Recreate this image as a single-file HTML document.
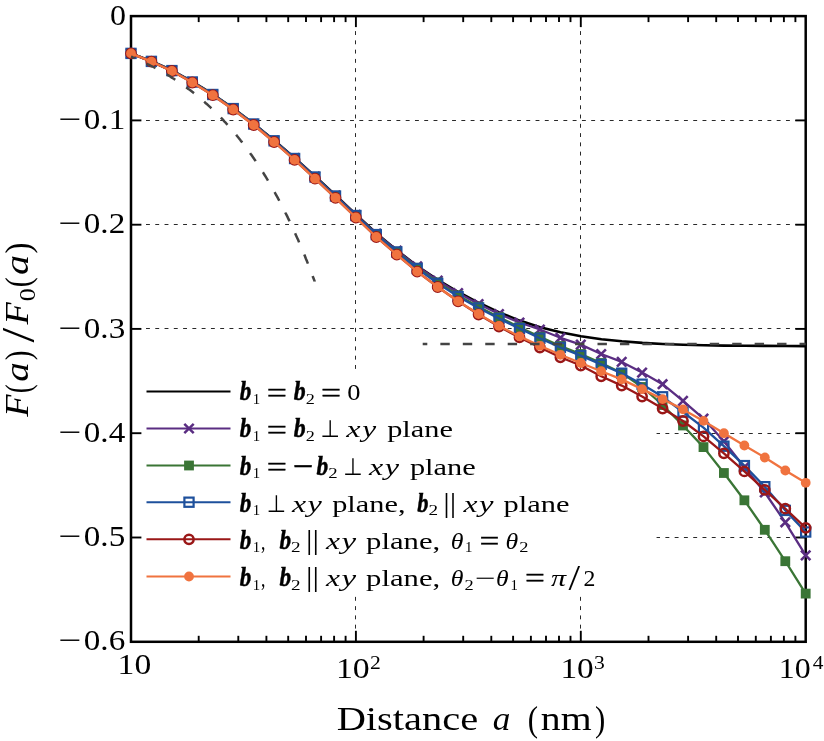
<!DOCTYPE html>
<html lang="en"><head><meta charset="utf-8"><title>Figure</title>
<style>html,body{margin:0;padding:0;background:#fff;}svg{display:block;}</style></head>
<body>
<svg width="824" height="741" viewBox="0 0 824 741">
<rect x="0" y="0" width="824" height="741" fill="#ffffff"/>
<g stroke="#111" stroke-width="0.9" stroke-dasharray="3.9 5.375" stroke-dashoffset="3.55" fill="none"><line x1="131.0" y1="120.5" x2="805.7" y2="120.5"/><line x1="131.0" y1="224.5" x2="805.7" y2="224.5"/><line x1="131.0" y1="328.5" x2="805.7" y2="328.5"/><line x1="131.0" y1="433.5" x2="805.7" y2="433.5"/><line x1="131.0" y1="537.5" x2="805.7" y2="537.5"/><line x1="355.5" y1="16.1" x2="355.5" y2="641.8"/><line x1="580.5" y1="16.1" x2="580.5" y2="641.8"/></g>
<rect x="143" y="373" width="513.5" height="222" fill="#ffffff"/>
<g stroke="#000" stroke-width="1.9" fill="none"><line x1="131.0" y1="120.4" x2="141.4" y2="120.4"/><line x1="805.7" y1="120.4" x2="795.3000000000001" y2="120.4"/><line x1="131.0" y1="224.7" x2="141.4" y2="224.7"/><line x1="805.7" y1="224.7" x2="795.3000000000001" y2="224.7"/><line x1="131.0" y1="328.9" x2="141.4" y2="328.9"/><line x1="805.7" y1="328.9" x2="795.3000000000001" y2="328.9"/><line x1="131.0" y1="433.2" x2="141.4" y2="433.2"/><line x1="805.7" y1="433.2" x2="795.3000000000001" y2="433.2"/><line x1="131.0" y1="537.5" x2="141.4" y2="537.5"/><line x1="805.7" y1="537.5" x2="795.3000000000001" y2="537.5"/><line x1="198.7" y1="16.1" x2="198.7" y2="22.1"/><line x1="198.7" y1="641.8" x2="198.7" y2="635.8"/><line x1="238.3" y1="16.1" x2="238.3" y2="22.1"/><line x1="238.3" y1="641.8" x2="238.3" y2="635.8"/><line x1="266.4" y1="16.1" x2="266.4" y2="22.1"/><line x1="266.4" y1="641.8" x2="266.4" y2="635.8"/><line x1="288.2" y1="16.1" x2="288.2" y2="22.1"/><line x1="288.2" y1="641.8" x2="288.2" y2="635.8"/><line x1="306.0" y1="16.1" x2="306.0" y2="22.1"/><line x1="306.0" y1="641.8" x2="306.0" y2="635.8"/><line x1="321.1" y1="16.1" x2="321.1" y2="22.1"/><line x1="321.1" y1="641.8" x2="321.1" y2="635.8"/><line x1="334.1" y1="16.1" x2="334.1" y2="22.1"/><line x1="334.1" y1="641.8" x2="334.1" y2="635.8"/><line x1="345.6" y1="16.1" x2="345.6" y2="22.1"/><line x1="345.6" y1="641.8" x2="345.6" y2="635.8"/><line x1="355.9" y1="16.1" x2="355.9" y2="27.1"/><line x1="355.9" y1="641.8" x2="355.9" y2="630.8"/><line x1="423.6" y1="16.1" x2="423.6" y2="22.1"/><line x1="423.6" y1="641.8" x2="423.6" y2="635.8"/><line x1="463.2" y1="16.1" x2="463.2" y2="22.1"/><line x1="463.2" y1="641.8" x2="463.2" y2="635.8"/><line x1="491.3" y1="16.1" x2="491.3" y2="22.1"/><line x1="491.3" y1="641.8" x2="491.3" y2="635.8"/><line x1="513.1" y1="16.1" x2="513.1" y2="22.1"/><line x1="513.1" y1="641.8" x2="513.1" y2="635.8"/><line x1="530.9" y1="16.1" x2="530.9" y2="22.1"/><line x1="530.9" y1="641.8" x2="530.9" y2="635.8"/><line x1="546.0" y1="16.1" x2="546.0" y2="22.1"/><line x1="546.0" y1="641.8" x2="546.0" y2="635.8"/><line x1="559.0" y1="16.1" x2="559.0" y2="22.1"/><line x1="559.0" y1="641.8" x2="559.0" y2="635.8"/><line x1="570.5" y1="16.1" x2="570.5" y2="22.1"/><line x1="570.5" y1="641.8" x2="570.5" y2="635.8"/><line x1="580.8" y1="16.1" x2="580.8" y2="27.1"/><line x1="580.8" y1="641.8" x2="580.8" y2="630.8"/><line x1="648.5" y1="16.1" x2="648.5" y2="22.1"/><line x1="648.5" y1="641.8" x2="648.5" y2="635.8"/><line x1="688.1" y1="16.1" x2="688.1" y2="22.1"/><line x1="688.1" y1="641.8" x2="688.1" y2="635.8"/><line x1="716.2" y1="16.1" x2="716.2" y2="22.1"/><line x1="716.2" y1="641.8" x2="716.2" y2="635.8"/><line x1="738.0" y1="16.1" x2="738.0" y2="22.1"/><line x1="738.0" y1="641.8" x2="738.0" y2="635.8"/><line x1="755.8" y1="16.1" x2="755.8" y2="22.1"/><line x1="755.8" y1="641.8" x2="755.8" y2="635.8"/><line x1="770.9" y1="16.1" x2="770.9" y2="22.1"/><line x1="770.9" y1="641.8" x2="770.9" y2="635.8"/><line x1="783.9" y1="16.1" x2="783.9" y2="22.1"/><line x1="783.9" y1="641.8" x2="783.9" y2="635.8"/><line x1="795.4" y1="16.1" x2="795.4" y2="22.1"/><line x1="795.4" y1="641.8" x2="795.4" y2="635.8"/></g>
<rect x="131.0" y="16.1" width="674.7" height="625.6999999999999" fill="none" stroke="#000" stroke-width="2.5"/>
<path d="M131.0,53.4 L151.4,61.1 L171.9,70.3 L192.3,81.7 L212.8,94.2 L233.2,108.3 L253.7,123.7 L274.1,140.3 L294.6,157.9 L315.0,176.3 L335.5,195.2 L355.9,214.5 L376.3,233.3 L396.8,250.2 L417.2,266.0 L437.8,279.8 L458.3,292.0 L478.7,302.8 L499.2,312.4 L519.6,320.6 L540.1,327.2 L560.5,332.3 L581.0,336.2 L601.5,339.2 L621.9,341.3 L642.4,342.9 L662.8,344.0 L683.3,344.8 L703.7,345.3 L724.2,345.6 L744.6,345.8 L765.1,345.9 L785.5,346.0 L806.0,346.1" stroke="#000000" stroke-width="2.6" fill="none" stroke-linejoin="round"/>
<path d="M131.0,53.4 L151.4,61.4 L171.9,70.6 L192.3,82.0 L212.8,94.5 L233.2,108.6 L253.7,124.0 L274.1,140.6 L294.6,158.2 L315.0,176.6 L335.5,195.5 L355.9,214.8 L376.3,233.6 L396.8,250.5 L417.2,266.3 L437.7,280.5 L458.1,293.0 L478.6,304.0 L499.0,314.0 L519.5,322.5 L539.9,329.5 L560.4,337.8 L580.8,344.6 L601.2,354.0 L621.7,361.9 L642.1,372.6 L662.6,384.2 L683.0,400.9 L703.5,418.6 L723.9,441.3 L744.4,467.2 L764.8,492.5 L785.3,522.3 L805.7,555.4" stroke="#5a2d82" stroke-width="2.3" fill="none" stroke-linejoin="round"/><path d="M126.3,48.7L135.7,58.1M126.3,58.1L135.7,48.7" stroke="#5a2d82" stroke-width="2.6" fill="none"/><path d="M146.7,56.7L156.1,66.1M146.7,66.1L156.1,56.7" stroke="#5a2d82" stroke-width="2.6" fill="none"/><path d="M167.2,65.9L176.6,75.3M167.2,75.3L176.6,65.9" stroke="#5a2d82" stroke-width="2.6" fill="none"/><path d="M187.6,77.3L197.0,86.7M187.6,86.7L197.0,77.3" stroke="#5a2d82" stroke-width="2.6" fill="none"/><path d="M208.1,89.8L217.5,99.2M208.1,99.2L217.5,89.8" stroke="#5a2d82" stroke-width="2.6" fill="none"/><path d="M228.5,103.9L237.9,113.3M228.5,113.3L237.9,103.9" stroke="#5a2d82" stroke-width="2.6" fill="none"/><path d="M249.0,119.3L258.4,128.7M249.0,128.7L258.4,119.3" stroke="#5a2d82" stroke-width="2.6" fill="none"/><path d="M269.4,135.9L278.8,145.3M269.4,145.3L278.8,135.9" stroke="#5a2d82" stroke-width="2.6" fill="none"/><path d="M289.9,153.5L299.3,162.9M289.9,162.9L299.3,153.5" stroke="#5a2d82" stroke-width="2.6" fill="none"/><path d="M310.3,171.9L319.7,181.3M310.3,181.3L319.7,171.9" stroke="#5a2d82" stroke-width="2.6" fill="none"/><path d="M330.8,190.8L340.2,200.2M330.8,200.2L340.2,190.8" stroke="#5a2d82" stroke-width="2.6" fill="none"/><path d="M351.2,210.1L360.6,219.5M351.2,219.5L360.6,210.1" stroke="#5a2d82" stroke-width="2.6" fill="none"/><path d="M371.6,228.9L381.0,238.3M371.6,238.3L381.0,228.9" stroke="#5a2d82" stroke-width="2.6" fill="none"/><path d="M392.1,245.8L401.5,255.2M392.1,255.2L401.5,245.8" stroke="#5a2d82" stroke-width="2.6" fill="none"/><path d="M412.5,261.6L421.9,271.0M412.5,271.0L421.9,261.6" stroke="#5a2d82" stroke-width="2.6" fill="none"/><path d="M433.0,275.8L442.4,285.2M433.0,285.2L442.4,275.8" stroke="#5a2d82" stroke-width="2.6" fill="none"/><path d="M453.4,288.3L462.8,297.7M453.4,297.7L462.8,288.3" stroke="#5a2d82" stroke-width="2.6" fill="none"/><path d="M473.9,299.3L483.3,308.7M473.9,308.7L483.3,299.3" stroke="#5a2d82" stroke-width="2.6" fill="none"/><path d="M494.3,309.3L503.7,318.7M494.3,318.7L503.7,309.3" stroke="#5a2d82" stroke-width="2.6" fill="none"/><path d="M514.8,317.8L524.2,327.2M514.8,327.2L524.2,317.8" stroke="#5a2d82" stroke-width="2.6" fill="none"/><path d="M535.2,324.8L544.6,334.2M535.2,334.2L544.6,324.8" stroke="#5a2d82" stroke-width="2.6" fill="none"/><path d="M555.7,333.1L565.1,342.5M555.7,342.5L565.1,333.1" stroke="#5a2d82" stroke-width="2.6" fill="none"/><path d="M576.1,339.9L585.5,349.3M576.1,349.3L585.5,339.9" stroke="#5a2d82" stroke-width="2.6" fill="none"/><path d="M596.5,349.3L605.9,358.7M596.5,358.7L605.9,349.3" stroke="#5a2d82" stroke-width="2.6" fill="none"/><path d="M617.0,357.2L626.4,366.6M617.0,366.6L626.4,357.2" stroke="#5a2d82" stroke-width="2.6" fill="none"/><path d="M637.4,367.9L646.8,377.3M637.4,377.3L646.8,367.9" stroke="#5a2d82" stroke-width="2.6" fill="none"/><path d="M657.9,379.5L667.3,388.9M657.9,388.9L667.3,379.5" stroke="#5a2d82" stroke-width="2.6" fill="none"/><path d="M678.3,396.2L687.7,405.6M678.3,405.6L687.7,396.2" stroke="#5a2d82" stroke-width="2.6" fill="none"/><path d="M698.8,413.9L708.2,423.3M698.8,423.3L708.2,413.9" stroke="#5a2d82" stroke-width="2.6" fill="none"/><path d="M719.2,436.6L728.6,446.0M719.2,446.0L728.6,436.6" stroke="#5a2d82" stroke-width="2.6" fill="none"/><path d="M739.7,462.5L749.1,471.9M739.7,471.9L749.1,462.5" stroke="#5a2d82" stroke-width="2.6" fill="none"/><path d="M760.1,487.8L769.5,497.2M760.1,497.2L769.5,487.8" stroke="#5a2d82" stroke-width="2.6" fill="none"/><path d="M780.6,517.6L790.0,527.0M780.6,527.0L790.0,517.6" stroke="#5a2d82" stroke-width="2.6" fill="none"/><path d="M801.0,550.7L810.4,560.1M801.0,560.1L810.4,550.7" stroke="#5a2d82" stroke-width="2.6" fill="none"/>
<path d="M131.0,53.4 L151.4,61.4 L171.9,70.6 L192.3,82.0 L212.8,94.5 L233.2,108.6 L253.7,124.0 L274.1,140.8 L294.6,158.5 L315.0,177.0 L335.5,196.0 L355.9,215.5 L376.3,234.4 L396.8,251.6 L417.2,267.8 L437.7,282.4 L458.1,295.4 L478.6,306.8 L499.0,317.2 L519.5,327.2 L539.9,336.8 L560.4,346.0 L580.8,354.0 L601.2,363.0 L621.7,373.0 L642.1,387.0 L662.6,405.0 L683.0,425.5 L703.5,447.1 L723.9,473.0 L744.4,500.3 L764.8,529.8 L785.3,561.2 L805.7,593.6" stroke="#3a7535" stroke-width="2.3" fill="none" stroke-linejoin="round"/><rect x="126.1" y="48.5" width="9.8" height="9.8" fill="#3a7535"/><rect x="146.5" y="56.5" width="9.8" height="9.8" fill="#3a7535"/><rect x="167.0" y="65.7" width="9.8" height="9.8" fill="#3a7535"/><rect x="187.4" y="77.1" width="9.8" height="9.8" fill="#3a7535"/><rect x="207.9" y="89.6" width="9.8" height="9.8" fill="#3a7535"/><rect x="228.3" y="103.7" width="9.8" height="9.8" fill="#3a7535"/><rect x="248.8" y="119.1" width="9.8" height="9.8" fill="#3a7535"/><rect x="269.2" y="135.9" width="9.8" height="9.8" fill="#3a7535"/><rect x="289.7" y="153.6" width="9.8" height="9.8" fill="#3a7535"/><rect x="310.1" y="172.1" width="9.8" height="9.8" fill="#3a7535"/><rect x="330.6" y="191.1" width="9.8" height="9.8" fill="#3a7535"/><rect x="351.0" y="210.6" width="9.8" height="9.8" fill="#3a7535"/><rect x="371.4" y="229.5" width="9.8" height="9.8" fill="#3a7535"/><rect x="391.9" y="246.7" width="9.8" height="9.8" fill="#3a7535"/><rect x="412.3" y="262.9" width="9.8" height="9.8" fill="#3a7535"/><rect x="432.8" y="277.5" width="9.8" height="9.8" fill="#3a7535"/><rect x="453.2" y="290.5" width="9.8" height="9.8" fill="#3a7535"/><rect x="473.7" y="301.9" width="9.8" height="9.8" fill="#3a7535"/><rect x="494.1" y="312.3" width="9.8" height="9.8" fill="#3a7535"/><rect x="514.6" y="322.3" width="9.8" height="9.8" fill="#3a7535"/><rect x="535.0" y="331.9" width="9.8" height="9.8" fill="#3a7535"/><rect x="555.5" y="341.1" width="9.8" height="9.8" fill="#3a7535"/><rect x="575.9" y="349.1" width="9.8" height="9.8" fill="#3a7535"/><rect x="596.3" y="358.1" width="9.8" height="9.8" fill="#3a7535"/><rect x="616.8" y="368.1" width="9.8" height="9.8" fill="#3a7535"/><rect x="637.2" y="382.1" width="9.8" height="9.8" fill="#3a7535"/><rect x="657.7" y="400.1" width="9.8" height="9.8" fill="#3a7535"/><rect x="678.1" y="420.6" width="9.8" height="9.8" fill="#3a7535"/><rect x="698.6" y="442.2" width="9.8" height="9.8" fill="#3a7535"/><rect x="719.0" y="468.1" width="9.8" height="9.8" fill="#3a7535"/><rect x="739.5" y="495.4" width="9.8" height="9.8" fill="#3a7535"/><rect x="759.9" y="524.9" width="9.8" height="9.8" fill="#3a7535"/><rect x="780.4" y="556.3" width="9.8" height="9.8" fill="#3a7535"/><rect x="800.8" y="588.7" width="9.8" height="9.8" fill="#3a7535"/>
<path d="M131.0,53.4 L151.4,61.4 L171.9,70.6 L192.3,82.0 L212.8,94.5 L233.2,108.6 L253.7,124.0 L274.1,140.8 L294.6,158.5 L315.0,177.0 L335.5,196.0 L355.9,215.5 L376.3,234.6 L396.8,252.0 L417.2,268.5 L437.7,283.4 L458.1,296.6 L478.6,308.0 L499.0,318.5 L519.5,328.5 L539.9,338.2 L560.4,347.5 L580.8,355.6 L601.2,364.4 L621.7,373.2 L642.1,384.2 L662.6,396.8 L683.0,412.0 L703.5,427.7 L723.9,446.2 L744.4,465.6 L764.8,486.7 L785.3,510.4 L805.7,532.0" stroke="#1e509c" stroke-width="2.3" fill="none" stroke-linejoin="round"/><rect x="126.4" y="48.8" width="9.2" height="9.2" fill="none" stroke="#1e509c" stroke-width="2.2"/><rect x="146.8" y="56.8" width="9.2" height="9.2" fill="none" stroke="#1e509c" stroke-width="2.2"/><rect x="167.3" y="66.0" width="9.2" height="9.2" fill="none" stroke="#1e509c" stroke-width="2.2"/><rect x="187.7" y="77.4" width="9.2" height="9.2" fill="none" stroke="#1e509c" stroke-width="2.2"/><rect x="208.2" y="89.9" width="9.2" height="9.2" fill="none" stroke="#1e509c" stroke-width="2.2"/><rect x="228.6" y="104.0" width="9.2" height="9.2" fill="none" stroke="#1e509c" stroke-width="2.2"/><rect x="249.1" y="119.4" width="9.2" height="9.2" fill="none" stroke="#1e509c" stroke-width="2.2"/><rect x="269.5" y="136.2" width="9.2" height="9.2" fill="none" stroke="#1e509c" stroke-width="2.2"/><rect x="290.0" y="153.9" width="9.2" height="9.2" fill="none" stroke="#1e509c" stroke-width="2.2"/><rect x="310.4" y="172.4" width="9.2" height="9.2" fill="none" stroke="#1e509c" stroke-width="2.2"/><rect x="330.9" y="191.4" width="9.2" height="9.2" fill="none" stroke="#1e509c" stroke-width="2.2"/><rect x="351.3" y="210.9" width="9.2" height="9.2" fill="none" stroke="#1e509c" stroke-width="2.2"/><rect x="371.7" y="230.0" width="9.2" height="9.2" fill="none" stroke="#1e509c" stroke-width="2.2"/><rect x="392.2" y="247.4" width="9.2" height="9.2" fill="none" stroke="#1e509c" stroke-width="2.2"/><rect x="412.6" y="263.9" width="9.2" height="9.2" fill="none" stroke="#1e509c" stroke-width="2.2"/><rect x="433.1" y="278.8" width="9.2" height="9.2" fill="none" stroke="#1e509c" stroke-width="2.2"/><rect x="453.5" y="292.0" width="9.2" height="9.2" fill="none" stroke="#1e509c" stroke-width="2.2"/><rect x="474.0" y="303.4" width="9.2" height="9.2" fill="none" stroke="#1e509c" stroke-width="2.2"/><rect x="494.4" y="313.9" width="9.2" height="9.2" fill="none" stroke="#1e509c" stroke-width="2.2"/><rect x="514.9" y="323.9" width="9.2" height="9.2" fill="none" stroke="#1e509c" stroke-width="2.2"/><rect x="535.3" y="333.6" width="9.2" height="9.2" fill="none" stroke="#1e509c" stroke-width="2.2"/><rect x="555.8" y="342.9" width="9.2" height="9.2" fill="none" stroke="#1e509c" stroke-width="2.2"/><rect x="576.2" y="351.0" width="9.2" height="9.2" fill="none" stroke="#1e509c" stroke-width="2.2"/><rect x="596.6" y="359.8" width="9.2" height="9.2" fill="none" stroke="#1e509c" stroke-width="2.2"/><rect x="617.1" y="368.6" width="9.2" height="9.2" fill="none" stroke="#1e509c" stroke-width="2.2"/><rect x="637.5" y="379.6" width="9.2" height="9.2" fill="none" stroke="#1e509c" stroke-width="2.2"/><rect x="658.0" y="392.2" width="9.2" height="9.2" fill="none" stroke="#1e509c" stroke-width="2.2"/><rect x="678.4" y="407.4" width="9.2" height="9.2" fill="none" stroke="#1e509c" stroke-width="2.2"/><rect x="698.9" y="423.1" width="9.2" height="9.2" fill="none" stroke="#1e509c" stroke-width="2.2"/><rect x="719.3" y="441.6" width="9.2" height="9.2" fill="none" stroke="#1e509c" stroke-width="2.2"/><rect x="739.8" y="461.0" width="9.2" height="9.2" fill="none" stroke="#1e509c" stroke-width="2.2"/><rect x="760.2" y="482.1" width="9.2" height="9.2" fill="none" stroke="#1e509c" stroke-width="2.2"/><rect x="780.7" y="505.8" width="9.2" height="9.2" fill="none" stroke="#1e509c" stroke-width="2.2"/><rect x="801.1" y="527.4" width="9.2" height="9.2" fill="none" stroke="#1e509c" stroke-width="2.2"/>
<path d="M131.0,53.4 L151.4,61.6 L171.9,71.0 L192.3,82.5 L212.8,95.2 L233.2,109.5 L253.7,125.0 L274.1,142.0 L294.6,159.9 L315.0,178.7 L335.5,197.8 L355.9,217.5 L376.3,237.0 L396.8,254.6 L417.2,271.6 L437.7,287.0 L458.1,301.3 L478.6,314.5 L499.0,326.6 L519.5,337.4 L539.9,347.5 L560.4,357.3 L580.8,365.5 L601.2,376.3 L621.7,385.6 L642.1,396.6 L662.6,408.5 L683.0,421.0 L703.5,436.4 L723.9,453.3 L744.4,471.4 L764.8,489.9 L785.3,508.7 L805.7,527.8" stroke="#9a1717" stroke-width="2.3" fill="none" stroke-linejoin="round"/><circle cx="131.0" cy="53.4" r="4.65" fill="none" stroke="#9a1717" stroke-width="2.5"/><circle cx="151.4" cy="61.6" r="4.65" fill="none" stroke="#9a1717" stroke-width="2.5"/><circle cx="171.9" cy="71.0" r="4.65" fill="none" stroke="#9a1717" stroke-width="2.5"/><circle cx="192.3" cy="82.5" r="4.65" fill="none" stroke="#9a1717" stroke-width="2.5"/><circle cx="212.8" cy="95.2" r="4.65" fill="none" stroke="#9a1717" stroke-width="2.5"/><circle cx="233.2" cy="109.5" r="4.65" fill="none" stroke="#9a1717" stroke-width="2.5"/><circle cx="253.7" cy="125.0" r="4.65" fill="none" stroke="#9a1717" stroke-width="2.5"/><circle cx="274.1" cy="142.0" r="4.65" fill="none" stroke="#9a1717" stroke-width="2.5"/><circle cx="294.6" cy="159.9" r="4.65" fill="none" stroke="#9a1717" stroke-width="2.5"/><circle cx="315.0" cy="178.7" r="4.65" fill="none" stroke="#9a1717" stroke-width="2.5"/><circle cx="335.5" cy="197.8" r="4.65" fill="none" stroke="#9a1717" stroke-width="2.5"/><circle cx="355.9" cy="217.5" r="4.65" fill="none" stroke="#9a1717" stroke-width="2.5"/><circle cx="376.3" cy="237.0" r="4.65" fill="none" stroke="#9a1717" stroke-width="2.5"/><circle cx="396.8" cy="254.6" r="4.65" fill="none" stroke="#9a1717" stroke-width="2.5"/><circle cx="417.2" cy="271.6" r="4.65" fill="none" stroke="#9a1717" stroke-width="2.5"/><circle cx="437.7" cy="287.0" r="4.65" fill="none" stroke="#9a1717" stroke-width="2.5"/><circle cx="458.1" cy="301.3" r="4.65" fill="none" stroke="#9a1717" stroke-width="2.5"/><circle cx="478.6" cy="314.5" r="4.65" fill="none" stroke="#9a1717" stroke-width="2.5"/><circle cx="499.0" cy="326.6" r="4.65" fill="none" stroke="#9a1717" stroke-width="2.5"/><circle cx="519.5" cy="337.4" r="4.65" fill="none" stroke="#9a1717" stroke-width="2.5"/><circle cx="539.9" cy="347.5" r="4.65" fill="none" stroke="#9a1717" stroke-width="2.5"/><circle cx="560.4" cy="357.3" r="4.65" fill="none" stroke="#9a1717" stroke-width="2.5"/><circle cx="580.8" cy="365.5" r="4.65" fill="none" stroke="#9a1717" stroke-width="2.5"/><circle cx="601.2" cy="376.3" r="4.65" fill="none" stroke="#9a1717" stroke-width="2.5"/><circle cx="621.7" cy="385.6" r="4.65" fill="none" stroke="#9a1717" stroke-width="2.5"/><circle cx="642.1" cy="396.6" r="4.65" fill="none" stroke="#9a1717" stroke-width="2.5"/><circle cx="662.6" cy="408.5" r="4.65" fill="none" stroke="#9a1717" stroke-width="2.5"/><circle cx="683.0" cy="421.0" r="4.65" fill="none" stroke="#9a1717" stroke-width="2.5"/><circle cx="703.5" cy="436.4" r="4.65" fill="none" stroke="#9a1717" stroke-width="2.5"/><circle cx="723.9" cy="453.3" r="4.65" fill="none" stroke="#9a1717" stroke-width="2.5"/><circle cx="744.4" cy="471.4" r="4.65" fill="none" stroke="#9a1717" stroke-width="2.5"/><circle cx="764.8" cy="489.9" r="4.65" fill="none" stroke="#9a1717" stroke-width="2.5"/><circle cx="785.3" cy="508.7" r="4.65" fill="none" stroke="#9a1717" stroke-width="2.5"/><circle cx="805.7" cy="527.8" r="4.65" fill="none" stroke="#9a1717" stroke-width="2.5"/>
<path d="M131.0,53.4 L151.4,61.6 L171.9,71.0 L192.3,82.5 L212.8,95.2 L233.2,109.5 L253.7,125.0 L274.1,142.0 L294.6,159.9 L315.0,178.7 L335.5,197.8 L355.9,217.5 L376.3,237.0 L396.8,254.6 L417.2,271.6 L437.7,287.0 L458.1,301.3 L478.6,314.0 L499.0,325.9 L519.5,336.4 L539.9,345.8 L560.4,354.8 L580.8,363.0 L601.2,371.2 L621.7,379.4 L642.1,389.1 L662.6,399.1 L683.0,409.4 L703.5,420.9 L723.9,433.2 L744.4,445.5 L764.8,457.5 L785.3,470.5 L805.7,482.8" stroke="#f0733f" stroke-width="2.3" fill="none" stroke-linejoin="round"/><circle cx="131.0" cy="53.4" r="4.9" fill="#f0733f"/><circle cx="151.4" cy="61.6" r="4.9" fill="#f0733f"/><circle cx="171.9" cy="71.0" r="4.9" fill="#f0733f"/><circle cx="192.3" cy="82.5" r="4.9" fill="#f0733f"/><circle cx="212.8" cy="95.2" r="4.9" fill="#f0733f"/><circle cx="233.2" cy="109.5" r="4.9" fill="#f0733f"/><circle cx="253.7" cy="125.0" r="4.9" fill="#f0733f"/><circle cx="274.1" cy="142.0" r="4.9" fill="#f0733f"/><circle cx="294.6" cy="159.9" r="4.9" fill="#f0733f"/><circle cx="315.0" cy="178.7" r="4.9" fill="#f0733f"/><circle cx="335.5" cy="197.8" r="4.9" fill="#f0733f"/><circle cx="355.9" cy="217.5" r="4.9" fill="#f0733f"/><circle cx="376.3" cy="237.0" r="4.9" fill="#f0733f"/><circle cx="396.8" cy="254.6" r="4.9" fill="#f0733f"/><circle cx="417.2" cy="271.6" r="4.9" fill="#f0733f"/><circle cx="437.7" cy="287.0" r="4.9" fill="#f0733f"/><circle cx="458.1" cy="301.3" r="4.9" fill="#f0733f"/><circle cx="478.6" cy="314.0" r="4.9" fill="#f0733f"/><circle cx="499.0" cy="325.9" r="4.9" fill="#f0733f"/><circle cx="519.5" cy="336.4" r="4.9" fill="#f0733f"/><circle cx="539.9" cy="345.8" r="4.9" fill="#f0733f"/><circle cx="560.4" cy="354.8" r="4.9" fill="#f0733f"/><circle cx="580.8" cy="363.0" r="4.9" fill="#f0733f"/><circle cx="601.2" cy="371.2" r="4.9" fill="#f0733f"/><circle cx="621.7" cy="379.4" r="4.9" fill="#f0733f"/><circle cx="642.1" cy="389.1" r="4.9" fill="#f0733f"/><circle cx="662.6" cy="399.1" r="4.9" fill="#f0733f"/><circle cx="683.0" cy="409.4" r="4.9" fill="#f0733f"/><circle cx="703.5" cy="420.9" r="4.9" fill="#f0733f"/><circle cx="723.9" cy="433.2" r="4.9" fill="#f0733f"/><circle cx="744.4" cy="445.5" r="4.9" fill="#f0733f"/><circle cx="764.8" cy="457.5" r="4.9" fill="#f0733f"/><circle cx="785.3" cy="470.5" r="4.9" fill="#f0733f"/><circle cx="805.7" cy="482.8" r="4.9" fill="#f0733f"/>
<path d="M131.0,56.6 L132.0,57.0 L132.9,57.4 L133.9,57.8 L134.9,58.2 L135.9,58.6 L136.8,59.1 L137.8,59.5 L138.8,59.9 L139.7,60.4 L140.7,60.8 L141.7,61.2 L142.7,61.7 L143.6,62.1 L144.6,62.6 L145.6,63.1 L146.6,63.5 L147.5,64.0 L148.5,64.5 L149.5,65.0 L150.4,65.5 L151.4,66.0 L152.4,66.5 L153.4,67.0 L154.3,67.5 L155.3,68.0 L156.3,68.5 L157.2,69.0 L158.2,69.6 L159.2,70.1 L160.2,70.6 L161.1,71.2 L162.1,71.7 L163.1,72.3 L164.0,72.9 L165.0,73.4 L166.0,74.0 L167.0,74.6 L167.9,75.2 L168.9,75.7 L169.9,76.3 L170.8,76.9 L171.8,77.6 L172.8,78.2 L173.8,78.8 L174.7,79.4 L175.7,80.0 L176.7,80.7 L177.7,81.3 L178.6,82.0 L179.6,82.6 L180.6,83.3 L181.5,84.0 L182.5,84.7 L183.5,85.3 L184.5,86.0 L185.4,86.7 L186.4,87.4 L187.4,88.2 L188.3,88.9 L189.3,89.6 L190.3,90.3 L191.3,91.1 L192.2,91.8 L193.2,92.6 L194.2,93.4 L195.1,94.1 L196.1,94.9 L197.1,95.7 L198.1,96.5 L199.0,97.3 L200.0,98.1 L201.0,98.9 L201.9,99.8 L202.9,100.6 L203.9,101.4 L204.9,102.3 L205.8,103.2 L206.8,104.0 L207.8,104.9 L208.8,105.8 L209.7,106.7 L210.7,107.6 L211.7,108.5 L212.6,109.4 L213.6,110.4 L214.6,111.3 L215.6,112.3 L216.5,113.2 L217.5,114.2 L218.5,115.2 L219.4,116.2 L220.4,117.2 L221.4,118.2 L222.4,119.2 L223.3,120.2 L224.3,121.3 L225.3,122.3 L226.2,123.4 L227.2,124.5 L228.2,125.5 L229.2,126.6 L230.1,127.7 L231.1,128.9 L232.1,130.0 L233.0,131.1 L234.0,132.3 L235.0,133.4 L236.0,134.6 L236.9,135.8 L237.9,137.0 L238.9,138.2 L239.9,139.4 L240.8,140.7 L241.8,141.9 L242.8,143.2 L243.7,144.4 L244.7,145.7 L245.7,147.0 L246.7,148.3 L247.6,149.6 L248.6,151.0 L249.6,152.3 L250.5,153.7 L251.5,155.1 L252.5,156.5 L253.5,157.9 L254.4,159.3 L255.4,160.7 L256.4,162.2 L257.3,163.6 L258.3,165.1 L259.3,166.6 L260.3,168.1 L261.2,169.6 L262.2,171.1 L263.2,172.7 L264.1,174.3 L265.1,175.8 L266.1,177.4 L267.1,179.0 L268.0,180.7 L269.0,182.3 L270.0,184.0 L271.0,185.7 L271.9,187.4 L272.9,189.1 L273.9,190.8 L274.8,192.5 L275.8,194.3 L276.8,196.1 L277.8,197.9 L278.7,199.7 L279.7,201.5 L280.7,203.4 L281.6,205.3 L282.6,207.2 L283.6,209.1 L284.6,211.0 L285.5,213.0 L286.5,214.9 L287.5,216.9 L288.4,218.9 L289.4,220.9 L290.4,223.0 L291.4,225.1 L292.3,227.2 L293.3,229.3 L294.3,231.4 L295.2,233.5 L296.2,235.7 L297.2,237.9 L298.2,240.1 L299.1,242.4 L300.1,244.6 L301.1,246.9 L302.1,249.2 L303.0,251.6 L304.0,253.9 L305.0,256.3 L305.9,258.7 L306.9,261.1 L307.9,263.6 L308.9,266.1 L309.8,268.6 L310.8,271.1 L311.8,273.6 L312.7,276.2 L313.7,278.8 L314.7,281.4 L314.7,281.5" stroke="#444444" stroke-width="2.5" stroke-dasharray="9.8 13.25" stroke-dashoffset="5.8" fill="none"/>
<line x1="422.7" y1="344.1" x2="805.7" y2="344.1" stroke="#444444" stroke-width="2.5" stroke-dasharray="9.4 13.05" stroke-dashoffset="4.8"/>
<line x1="146.5" y1="391.5" x2="230.5" y2="391.5" stroke="#000000" stroke-width="2.1"/>
<line x1="146.5" y1="428.5" x2="230.5" y2="428.5" stroke="#5a2d82" stroke-width="2.1"/>
<path d="M184.3,423.8L193.7,433.2M184.3,433.2L193.7,423.8" stroke="#5a2d82" stroke-width="2.5" fill="none"/>
<line x1="146.5" y1="465.5" x2="230.5" y2="465.5" stroke="#3a7535" stroke-width="2.1"/>
<rect x="184.1" y="460.6" width="9.8" height="9.8" fill="#3a7535"/>
<line x1="146.5" y1="502.2" x2="230.5" y2="502.2" stroke="#1e509c" stroke-width="2.1"/>
<rect x="184.4" y="497.6" width="9.2" height="9.2" fill="none" stroke="#1e509c" stroke-width="2.2"/>
<line x1="146.5" y1="539.3" x2="230.5" y2="539.3" stroke="#9a1717" stroke-width="2.1"/>
<circle cx="189.0" cy="539.3" r="4.65" fill="none" stroke="#9a1717" stroke-width="2.5"/>
<line x1="146.5" y1="576.5" x2="230.5" y2="576.5" stroke="#f0733f" stroke-width="2.1"/>
<circle cx="189.0" cy="576.5" r="4.9" fill="#f0733f"/>
<g fill="#000"><text stroke="#000" stroke-width="0.45" x="239.7" y="400.4" font-size="27" font-family="'Liberation Serif', 'DejaVu Serif', serif" font-weight="bold" font-style="italic" textLength="11.5" lengthAdjust="spacingAndGlyphs">b</text>
<text x="252.8" y="404.2" font-size="15.5" font-family="'Liberation Serif', 'DejaVu Serif', serif" textLength="7.4" lengthAdjust="spacingAndGlyphs">1</text>
<text stroke="#000" stroke-width="0.35" x="266.7" y="401.5" font-size="27" font-family="'Liberation Serif', 'DejaVu Serif', serif" textLength="20.2" lengthAdjust="spacingAndGlyphs">=</text>
<text stroke="#000" stroke-width="0.45" x="293.7" y="400.4" font-size="27" font-family="'Liberation Serif', 'DejaVu Serif', serif" font-weight="bold" font-style="italic" textLength="11.9" lengthAdjust="spacingAndGlyphs">b</text>
<text x="305.7" y="404.2" font-size="15.5" font-family="'Liberation Serif', 'DejaVu Serif', serif" textLength="9.1" lengthAdjust="spacingAndGlyphs">2</text>
<text stroke="#000" stroke-width="0.35" x="320.9" y="401.5" font-size="27" font-family="'Liberation Serif', 'DejaVu Serif', serif" textLength="20.1" lengthAdjust="spacingAndGlyphs">=</text>
<text x="347.2" y="400.4" font-size="24" font-family="'Liberation Serif', 'DejaVu Serif', serif" textLength="13.2" lengthAdjust="spacingAndGlyphs">0</text>
<text stroke="#000" stroke-width="0.45" x="239.7" y="437.4" font-size="27" font-family="'Liberation Serif', 'DejaVu Serif', serif" font-weight="bold" font-style="italic" textLength="11.5" lengthAdjust="spacingAndGlyphs">b</text>
<text x="252.8" y="441.2" font-size="15.5" font-family="'Liberation Serif', 'DejaVu Serif', serif" textLength="7.4" lengthAdjust="spacingAndGlyphs">1</text>
<text stroke="#000" stroke-width="0.35" x="266.7" y="438.5" font-size="27" font-family="'Liberation Serif', 'DejaVu Serif', serif" textLength="20.2" lengthAdjust="spacingAndGlyphs">=</text>
<text stroke="#000" stroke-width="0.45" x="293.7" y="437.4" font-size="27" font-family="'Liberation Serif', 'DejaVu Serif', serif" font-weight="bold" font-style="italic" textLength="11.9" lengthAdjust="spacingAndGlyphs">b</text>
<text x="305.7" y="441.2" font-size="15.5" font-family="'Liberation Serif', 'DejaVu Serif', serif" textLength="9.1" lengthAdjust="spacingAndGlyphs">2</text>
<text x="320.6" y="437.4" font-size="24" font-family="'DejaVu Sans', sans-serif" textLength="19.4" lengthAdjust="spacingAndGlyphs">⊥</text>
<text x="346.2" y="437.4" font-size="24" font-family="'Liberation Serif', 'DejaVu Serif', serif" font-style="italic" textLength="14.3" lengthAdjust="spacingAndGlyphs">x</text>
<text x="362.3" y="437.4" font-size="24" font-family="'Liberation Serif', 'DejaVu Serif', serif" font-style="italic" textLength="13.9" lengthAdjust="spacingAndGlyphs">y</text>
<text x="387.2" y="437.4" font-size="24" font-family="'Liberation Serif', 'DejaVu Serif', serif" textLength="65.8" lengthAdjust="spacingAndGlyphs">plane</text>
<text stroke="#000" stroke-width="0.45" x="239.7" y="474.5" font-size="27" font-family="'Liberation Serif', 'DejaVu Serif', serif" font-weight="bold" font-style="italic" textLength="11.5" lengthAdjust="spacingAndGlyphs">b</text>
<text x="252.8" y="478.3" font-size="15.5" font-family="'Liberation Serif', 'DejaVu Serif', serif" textLength="7.4" lengthAdjust="spacingAndGlyphs">1</text>
<text stroke="#000" stroke-width="0.35" x="266.7" y="475.6" font-size="27" font-family="'Liberation Serif', 'DejaVu Serif', serif" textLength="20.2" lengthAdjust="spacingAndGlyphs">=</text>
<text stroke="#000" stroke-width="0.3" x="293.0" y="475.1" font-size="26" font-family="'Liberation Serif', 'DejaVu Serif', serif" font-weight="bold" textLength="20.8" lengthAdjust="spacingAndGlyphs">−</text>
<text stroke="#000" stroke-width="0.45" x="316.5" y="474.5" font-size="27" font-family="'Liberation Serif', 'DejaVu Serif', serif" font-weight="bold" font-style="italic" textLength="11.7" lengthAdjust="spacingAndGlyphs">b</text>
<text x="328.2" y="478.3" font-size="15.5" font-family="'Liberation Serif', 'DejaVu Serif', serif" textLength="9.4" lengthAdjust="spacingAndGlyphs">2</text>
<text x="343.2" y="474.5" font-size="24" font-family="'DejaVu Sans', sans-serif" textLength="19.4" lengthAdjust="spacingAndGlyphs">⊥</text>
<text x="369.0" y="474.5" font-size="24" font-family="'Liberation Serif', 'DejaVu Serif', serif" font-style="italic" textLength="14.2" lengthAdjust="spacingAndGlyphs">x</text>
<text x="384.7" y="474.5" font-size="24" font-family="'Liberation Serif', 'DejaVu Serif', serif" font-style="italic" textLength="14.3" lengthAdjust="spacingAndGlyphs">y</text>
<text x="409.9" y="474.5" font-size="24" font-family="'Liberation Serif', 'DejaVu Serif', serif" textLength="65.8" lengthAdjust="spacingAndGlyphs">plane</text>
<text stroke="#000" stroke-width="0.45" x="239.7" y="511.6" font-size="27" font-family="'Liberation Serif', 'DejaVu Serif', serif" font-weight="bold" font-style="italic" textLength="11.5" lengthAdjust="spacingAndGlyphs">b</text>
<text x="252.8" y="515.4" font-size="15.5" font-family="'Liberation Serif', 'DejaVu Serif', serif" textLength="7.4" lengthAdjust="spacingAndGlyphs">1</text>
<text x="266.8" y="511.6" font-size="24" font-family="'DejaVu Sans', sans-serif" textLength="19.3" lengthAdjust="spacingAndGlyphs">⊥</text>
<text x="292.1" y="511.6" font-size="24" font-family="'Liberation Serif', 'DejaVu Serif', serif" font-style="italic" textLength="14.1" lengthAdjust="spacingAndGlyphs">x</text>
<text x="307.6" y="511.6" font-size="24" font-family="'Liberation Serif', 'DejaVu Serif', serif" font-style="italic" textLength="14.3" lengthAdjust="spacingAndGlyphs">y</text>
<text x="332.2" y="511.6" font-size="24" font-family="'Liberation Serif', 'DejaVu Serif', serif" textLength="73.3" lengthAdjust="spacingAndGlyphs">plane,</text>
<text stroke="#000" stroke-width="0.45" x="417.2" y="511.6" font-size="27" font-family="'Liberation Serif', 'DejaVu Serif', serif" font-weight="bold" font-style="italic" textLength="11.2" lengthAdjust="spacingAndGlyphs">b</text>
<text x="428.4" y="515.4" font-size="15.5" font-family="'Liberation Serif', 'DejaVu Serif', serif" textLength="9.6" lengthAdjust="spacingAndGlyphs">2</text>
<text x="443.3" y="511.6" font-size="27" font-family="'Liberation Serif', 'DejaVu Serif', serif" textLength="13.0" lengthAdjust="spacingAndGlyphs">||</text>
<text x="463.5" y="511.6" font-size="24" font-family="'Liberation Serif', 'DejaVu Serif', serif" font-style="italic" textLength="14.0" lengthAdjust="spacingAndGlyphs">x</text>
<text x="479.0" y="511.6" font-size="24" font-family="'Liberation Serif', 'DejaVu Serif', serif" font-style="italic" textLength="14.5" lengthAdjust="spacingAndGlyphs">y</text>
<text x="503.5" y="511.6" font-size="24" font-family="'Liberation Serif', 'DejaVu Serif', serif" textLength="65.9" lengthAdjust="spacingAndGlyphs">plane</text>
<text stroke="#000" stroke-width="0.45" x="239.7" y="548.6" font-size="27" font-family="'Liberation Serif', 'DejaVu Serif', serif" font-weight="bold" font-style="italic" textLength="11.5" lengthAdjust="spacingAndGlyphs">b</text>
<text x="252.8" y="552.4" font-size="15.5" font-family="'Liberation Serif', 'DejaVu Serif', serif" textLength="7.4" lengthAdjust="spacingAndGlyphs">1</text>
<text x="260.9" y="548.6" font-size="24" font-family="'Liberation Serif', 'DejaVu Serif', serif" textLength="4.4" lengthAdjust="spacingAndGlyphs">,</text>
<text stroke="#000" stroke-width="0.45" x="279.4" y="548.6" font-size="27" font-family="'Liberation Serif', 'DejaVu Serif', serif" font-weight="bold" font-style="italic" textLength="11.6" lengthAdjust="spacingAndGlyphs">b</text>
<text x="291.0" y="552.4" font-size="15.5" font-family="'Liberation Serif', 'DejaVu Serif', serif" textLength="9.6" lengthAdjust="spacingAndGlyphs">2</text>
<text x="305.9" y="548.6" font-size="27" font-family="'Liberation Serif', 'DejaVu Serif', serif" textLength="13.0" lengthAdjust="spacingAndGlyphs">||</text>
<text x="326.1" y="548.6" font-size="24" font-family="'Liberation Serif', 'DejaVu Serif', serif" font-style="italic" textLength="14.0" lengthAdjust="spacingAndGlyphs">x</text>
<text x="341.5" y="548.6" font-size="24" font-family="'Liberation Serif', 'DejaVu Serif', serif" font-style="italic" textLength="14.6" lengthAdjust="spacingAndGlyphs">y</text>
<text x="366.1" y="548.6" font-size="24" font-family="'Liberation Serif', 'DejaVu Serif', serif" textLength="74.1" lengthAdjust="spacingAndGlyphs">plane,</text>
<text x="450.7" y="548.6" font-size="24" font-family="'Liberation Serif', 'DejaVu Serif', serif" font-style="italic" textLength="12.7" lengthAdjust="spacingAndGlyphs">θ</text>
<text x="465.0" y="552.4" font-size="15.5" font-family="'Liberation Serif', 'DejaVu Serif', serif" textLength="7.4" lengthAdjust="spacingAndGlyphs">1</text>
<text stroke="#000" stroke-width="0.35" x="479.5" y="549.7" font-size="27" font-family="'Liberation Serif', 'DejaVu Serif', serif" textLength="19.9" lengthAdjust="spacingAndGlyphs">=</text>
<text x="505.4" y="548.6" font-size="24" font-family="'Liberation Serif', 'DejaVu Serif', serif" font-style="italic" textLength="12.7" lengthAdjust="spacingAndGlyphs">θ</text>
<text x="519.2" y="552.4" font-size="15.5" font-family="'Liberation Serif', 'DejaVu Serif', serif" textLength="9.2" lengthAdjust="spacingAndGlyphs">2</text>
<text stroke="#000" stroke-width="0.45" x="239.7" y="585.8" font-size="27" font-family="'Liberation Serif', 'DejaVu Serif', serif" font-weight="bold" font-style="italic" textLength="11.5" lengthAdjust="spacingAndGlyphs">b</text>
<text x="252.8" y="589.6" font-size="15.5" font-family="'Liberation Serif', 'DejaVu Serif', serif" textLength="7.4" lengthAdjust="spacingAndGlyphs">1</text>
<text x="260.9" y="585.8" font-size="24" font-family="'Liberation Serif', 'DejaVu Serif', serif" textLength="4.4" lengthAdjust="spacingAndGlyphs">,</text>
<text stroke="#000" stroke-width="0.45" x="279.4" y="585.8" font-size="27" font-family="'Liberation Serif', 'DejaVu Serif', serif" font-weight="bold" font-style="italic" textLength="11.6" lengthAdjust="spacingAndGlyphs">b</text>
<text x="291.0" y="589.6" font-size="15.5" font-family="'Liberation Serif', 'DejaVu Serif', serif" textLength="9.6" lengthAdjust="spacingAndGlyphs">2</text>
<text x="305.9" y="585.8" font-size="27" font-family="'Liberation Serif', 'DejaVu Serif', serif" textLength="13.0" lengthAdjust="spacingAndGlyphs">||</text>
<text x="326.1" y="585.8" font-size="24" font-family="'Liberation Serif', 'DejaVu Serif', serif" font-style="italic" textLength="14.0" lengthAdjust="spacingAndGlyphs">x</text>
<text x="341.5" y="585.8" font-size="24" font-family="'Liberation Serif', 'DejaVu Serif', serif" font-style="italic" textLength="14.6" lengthAdjust="spacingAndGlyphs">y</text>
<text x="366.1" y="585.8" font-size="24" font-family="'Liberation Serif', 'DejaVu Serif', serif" textLength="74.1" lengthAdjust="spacingAndGlyphs">plane,</text>
<text x="450.7" y="585.8" font-size="24" font-family="'Liberation Serif', 'DejaVu Serif', serif" font-style="italic" textLength="12.7" lengthAdjust="spacingAndGlyphs">θ</text>
<text x="464.6" y="589.6" font-size="15.5" font-family="'Liberation Serif', 'DejaVu Serif', serif" textLength="9.2" lengthAdjust="spacingAndGlyphs">2</text>
<text x="474.9" y="585.8" font-size="24" font-family="'Liberation Serif', 'DejaVu Serif', serif" textLength="20.7" lengthAdjust="spacingAndGlyphs">−</text>
<text x="496.1" y="585.8" font-size="24" font-family="'Liberation Serif', 'DejaVu Serif', serif" font-style="italic" textLength="12.6" lengthAdjust="spacingAndGlyphs">θ</text>
<text x="510.4" y="589.6" font-size="15.5" font-family="'Liberation Serif', 'DejaVu Serif', serif" textLength="7.4" lengthAdjust="spacingAndGlyphs">1</text>
<text stroke="#000" stroke-width="0.35" x="524.9" y="586.9" font-size="27" font-family="'Liberation Serif', 'DejaVu Serif', serif" textLength="19.9" lengthAdjust="spacingAndGlyphs">=</text>
<text x="551.1" y="585.8" font-size="24" font-family="'Liberation Serif', 'DejaVu Serif', serif" font-style="italic" textLength="15.1" lengthAdjust="spacingAndGlyphs">π</text>
<text x="568.4" y="590.0" font-size="35" font-family="'Liberation Serif', 'DejaVu Serif', serif" textLength="11.6" lengthAdjust="spacingAndGlyphs">/</text>
<text x="583.6" y="585.8" font-size="24" font-family="'Liberation Serif', 'DejaVu Serif', serif" textLength="11.9" lengthAdjust="spacingAndGlyphs">2</text>
<text x="58.5" y="129.0" font-size="29.5" font-family="'Liberation Serif', 'DejaVu Serif', serif" textLength="23.0" lengthAdjust="spacingAndGlyphs">−</text>
<text x="83.8" y="129.0" font-size="29.5" font-family="'Liberation Serif', 'DejaVu Serif', serif" textLength="41.4" lengthAdjust="spacingAndGlyphs">0.1</text>
<text x="58.5" y="233.3" font-size="29.5" font-family="'Liberation Serif', 'DejaVu Serif', serif" textLength="23.0" lengthAdjust="spacingAndGlyphs">−</text>
<text x="83.8" y="233.3" font-size="29.5" font-family="'Liberation Serif', 'DejaVu Serif', serif" textLength="41.4" lengthAdjust="spacingAndGlyphs">0.2</text>
<text x="58.5" y="337.6" font-size="29.5" font-family="'Liberation Serif', 'DejaVu Serif', serif" textLength="23.0" lengthAdjust="spacingAndGlyphs">−</text>
<text x="83.8" y="337.6" font-size="29.5" font-family="'Liberation Serif', 'DejaVu Serif', serif" textLength="41.4" lengthAdjust="spacingAndGlyphs">0.3</text>
<text x="58.5" y="441.8" font-size="29.5" font-family="'Liberation Serif', 'DejaVu Serif', serif" textLength="23.0" lengthAdjust="spacingAndGlyphs">−</text>
<text x="83.8" y="441.8" font-size="29.5" font-family="'Liberation Serif', 'DejaVu Serif', serif" textLength="41.4" lengthAdjust="spacingAndGlyphs">0.4</text>
<text x="58.5" y="546.1" font-size="29.5" font-family="'Liberation Serif', 'DejaVu Serif', serif" textLength="23.0" lengthAdjust="spacingAndGlyphs">−</text>
<text x="83.8" y="546.1" font-size="29.5" font-family="'Liberation Serif', 'DejaVu Serif', serif" textLength="41.4" lengthAdjust="spacingAndGlyphs">0.5</text>
<text x="58.5" y="650.4" font-size="29.5" font-family="'Liberation Serif', 'DejaVu Serif', serif" textLength="23.0" lengthAdjust="spacingAndGlyphs">−</text>
<text x="83.8" y="650.4" font-size="29.5" font-family="'Liberation Serif', 'DejaVu Serif', serif" textLength="41.4" lengthAdjust="spacingAndGlyphs">0.6</text>
<text x="110.0" y="24.6" font-size="29.5" font-family="'Liberation Serif', 'DejaVu Serif', serif" textLength="16.0" lengthAdjust="spacingAndGlyphs">0</text>
<text x="117.6" y="673.9" font-size="29.5" font-family="'Liberation Serif', 'DejaVu Serif', serif" textLength="33.6" lengthAdjust="spacingAndGlyphs">10</text>
<text x="335.9" y="678.1" font-size="29.5" font-family="'Liberation Serif', 'DejaVu Serif', serif" textLength="33.8" lengthAdjust="spacingAndGlyphs">10</text>
<text x="369.9" y="669.0" font-size="19" font-family="'Liberation Serif', 'DejaVu Serif', serif" textLength="10.8" lengthAdjust="spacingAndGlyphs">2</text>
<text x="560.4" y="678.1" font-size="29.5" font-family="'Liberation Serif', 'DejaVu Serif', serif" textLength="33.3" lengthAdjust="spacingAndGlyphs">10</text>
<text x="594.0" y="669.0" font-size="19" font-family="'Liberation Serif', 'DejaVu Serif', serif" textLength="10.8" lengthAdjust="spacingAndGlyphs">3</text>
<text x="778.7" y="678.1" font-size="29.5" font-family="'Liberation Serif', 'DejaVu Serif', serif" textLength="31.9" lengthAdjust="spacingAndGlyphs">10</text>
<text x="812.8" y="669.0" font-size="19" font-family="'Liberation Serif', 'DejaVu Serif', serif" textLength="10.7" lengthAdjust="spacingAndGlyphs">4</text>
<text x="336.7" y="730.0" font-size="33" font-family="'Liberation Serif', 'DejaVu Serif', serif" textLength="141.4" lengthAdjust="spacingAndGlyphs">Distance</text>
<text x="492.7" y="730.0" font-size="33" font-family="'Liberation Serif', 'DejaVu Serif', serif" font-style="italic" textLength="17.6" lengthAdjust="spacingAndGlyphs">a</text>
<text x="527.7" y="731.3" font-size="36" font-family="'Liberation Serif', 'DejaVu Serif', serif" textLength="10.3" lengthAdjust="spacingAndGlyphs">(</text>
<text x="540.8" y="730.0" font-size="33" font-family="'Liberation Serif', 'DejaVu Serif', serif" textLength="50.8" lengthAdjust="spacingAndGlyphs">nm</text>
<text x="595.0" y="731.3" font-size="36" font-family="'Liberation Serif', 'DejaVu Serif', serif" textLength="10.3" lengthAdjust="spacingAndGlyphs">)</text></g>
<g fill="#000" transform="translate(28.3,417) rotate(-90)"><text x="0.2" y="0.0" font-size="33" font-family="'Liberation Serif', 'DejaVu Serif', serif" font-style="italic" textLength="22.2" lengthAdjust="spacingAndGlyphs">F</text>
<text x="23.9" y="1.3" font-size="36" font-family="'Liberation Serif', 'DejaVu Serif', serif" textLength="8.5" lengthAdjust="spacingAndGlyphs">(</text>
<text x="35.3" y="0.0" font-size="33" font-family="'Liberation Serif', 'DejaVu Serif', serif" font-style="italic" textLength="19.5" lengthAdjust="spacingAndGlyphs">a</text>
<text x="56.8" y="1.3" font-size="36" font-family="'Liberation Serif', 'DejaVu Serif', serif" textLength="9.9" lengthAdjust="spacingAndGlyphs">)</text>
<text x="74.4" y="5.6" font-size="46" font-family="'Liberation Serif', 'DejaVu Serif', serif" textLength="14.7" lengthAdjust="spacingAndGlyphs">/</text>
<text x="92.5" y="0.0" font-size="33" font-family="'Liberation Serif', 'DejaVu Serif', serif" font-style="italic" textLength="22.2" lengthAdjust="spacingAndGlyphs">F</text>
<text x="115.7" y="6.2" font-size="23" font-family="'Liberation Serif', 'DejaVu Serif', serif" textLength="13.1" lengthAdjust="spacingAndGlyphs">0</text>
<text x="129.7" y="1.3" font-size="36" font-family="'Liberation Serif', 'DejaVu Serif', serif" textLength="9.9" lengthAdjust="spacingAndGlyphs">(</text>
<text x="141.9" y="0.0" font-size="33" font-family="'Liberation Serif', 'DejaVu Serif', serif" font-style="italic" textLength="20.1" lengthAdjust="spacingAndGlyphs">a</text>
<text x="163.5" y="1.3" font-size="36" font-family="'Liberation Serif', 'DejaVu Serif', serif" textLength="11.1" lengthAdjust="spacingAndGlyphs">)</text></g>
</svg>
</body></html>
